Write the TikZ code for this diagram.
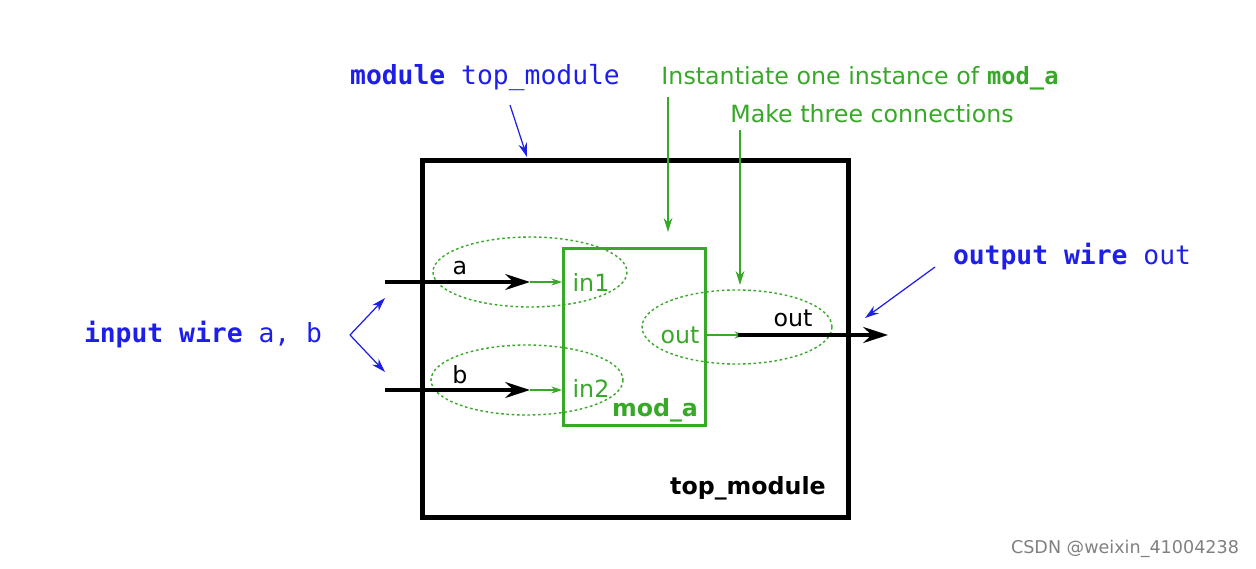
\documentclass[tikz,border=0pt]{standalone}
\usepackage{fontspec}
\setmainfont{DejaVu Sans}
\setmonofont{DejaVu Sans Mono}
\usetikzlibrary{arrows.meta}
\definecolor{gr}{RGB}{56,168,40}
\definecolor{bl}{RGB}{30,30,235}
\begin{document}
\begin{tikzpicture}[x=0.02cm,y=-0.02cm,
  txt/.style={font=\fontsize{13.5}{16}\selectfont, inner sep=0},
  mono/.style={font=\fontsize{15}{17}\selectfont\ttfamily, inner sep=0, text=bl},
  wire/.style={line width=2.2pt,-{Stealth[length=14pt,width=9pt]}},
  gwire/.style={gr,line width=0.9pt,-{Stealth[length=6pt,width=4pt]}},
  ann/.style={line width=0.7pt,-{Stealth[length=8pt,width=5pt]}},
  ell/.style={gr,dash pattern=on 1.5pt off 1.5pt,line width=0.8pt}]
\useasboundingbox (0,0) rectangle (1256,568);
\node[draw,line width=2.8pt,minimum width=428*0.567pt,minimum height=358*0.567pt,anchor=north west] (top) at (420,158) {};
\node[draw=gr,line width=1.6pt,minimum width=143*0.567pt,minimum height=178*0.567pt,anchor=north west] (moda) at (562,247) {};
\node[txt,text=gr,font=\fontsize{13.5}{16}\selectfont\bfseries] (modal) at (655,410) {mod\_a};
\node[txt,font=\fontsize{13.5}{16}\selectfont\bfseries] (topl) at (748,488) {top\_module};
\draw[ell] (530,272) ellipse [x radius=97,y radius=35];
\draw[ell] (527,380) ellipse [x radius=96,y radius=35];
\draw[ell] (737,327) ellipse [x radius=95,y radius=37];
\node[txt,text=gr] (in1) at (591,282) {in1};
\node[txt,text=gr] (in2) at (591,388) {in2};
\node[txt,text=gr] (out) at (680,335) {out};
\coordinate (ai) at (385,282); \coordinate (am) at (530,282); \coordinate (ae) at (562,282);
\coordinate (bi) at (385,390); \coordinate (bm) at (530,390); \coordinate (be) at (562,390);
\coordinate (os) at (705,335); \coordinate (om) at (745,335); \coordinate (oe) at (888,335);
\draw[gwire] (am) -- (ae);
\draw[gwire] (bm) -- (be);
\draw[wire] (ai) -- (am);
\draw[wire] (bi) -- (bm);
\draw[gwire] (os) -- (om);
\draw[wire] (738,335) -- (oe);
\node[txt] (al) at (460,268) {a};
\node[txt] (bl) at (460,375) {b};
\node[txt] (ol) at (793,318) {out};
\node[mono] (modt) at (485,78) {\textbf{module} top\_module};
\coordinate (m1) at (510,105); \coordinate (m2) at (527,157);
\draw[ann,bl] (m1) -- (m2);
\node[txt,text=gr] (inst) at (860,78) {Instantiate one instance of \texttt{\textbf{mod\_a}}};
\node[txt,text=gr] (make) at (872,114) {Make three connections};
\coordinate (i1) at (668,97); \coordinate (i2) at (668,232);
\coordinate (k1) at (740,130); \coordinate (k2) at (740,285);
\draw[ann,gr] (i1) -- (i2);
\draw[ann,gr] (k1) -- (k2);
\node[mono] (owt) at (1072,257) {\textbf{output wire} out};
\coordinate (w1) at (935,267); \coordinate (w2) at (865,318);
\draw[ann,bl] (w1) -- (w2);
\node[mono] (iwt) at (203,335) {\textbf{input wire} a, b};
\coordinate (v0) at (350,335); \coordinate (v1) at (385,298); \coordinate (v2) at (385,372);
\draw[ann,bl] (v0) -- (v1);
\draw[ann,bl] (v0) -- (v2);
\node[txt,text=gray,font=\fontsize{10}{12}\selectfont] (wm) at (1125,549) {CSDN @weixin\_41004238};
\end{tikzpicture}
\end{document}
